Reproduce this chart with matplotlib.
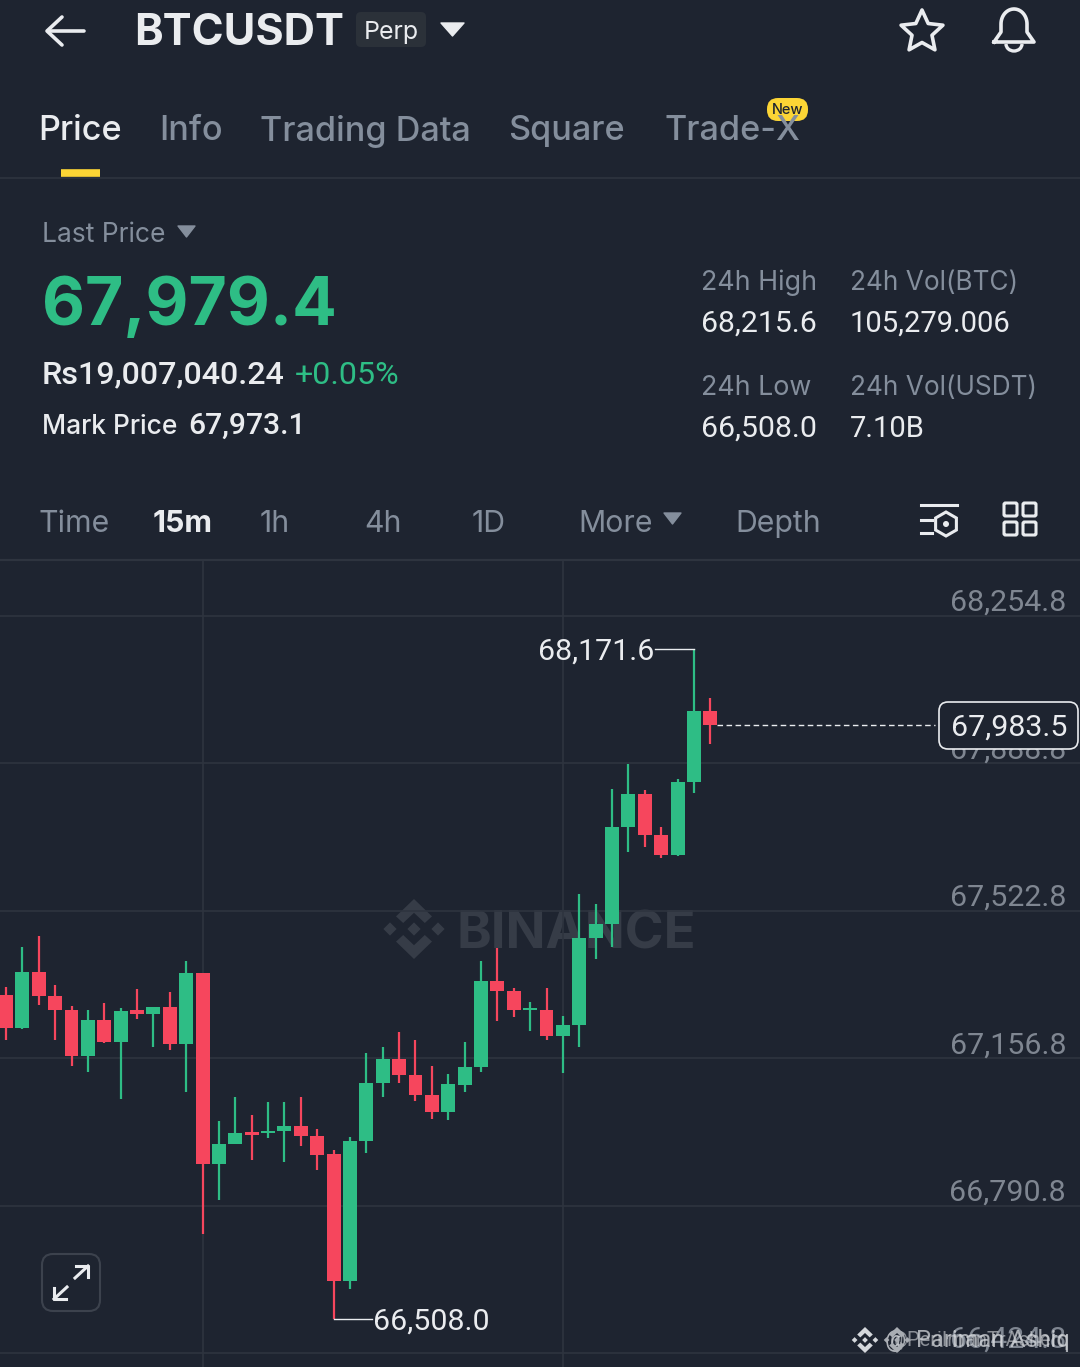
import numpy as np
import matplotlib
matplotlib.use('Agg')
import matplotlib.pyplot as plt
from matplotlib.patches import FancyBboxPatch, Polygon, Circle, Arc, RegularPolygon

plt.rcParams['font.family'] = ['Inter', 'DejaVu Sans']
NUM = ['Roboto', 'DejaVu Sans']  # digits of equal width, like the app

# candles
opens = [67313.7, 67232.5, 67372, 67312, 67276.5, 67161.5, 67251, 67198, 67276, 67266.5, 67283,
         67191, 67368, 66894, 66943, 66973.5, 66970, 66975, 66988, 66963, 66918, 66603.6,
         66950.5, 67095, 67154, 67115, 67065, 67022.5, 67091, 67134, 67349, 67324.4,
         67276.5, 67276.5, 67212, 67239, 67456, 67490, 67730, 67813, 67712, 67662, 67843, 68019.6]
highs = [67334, 67432, 67460, 67338, 67286.4, 67276.5, 67293, 67282, 67329.4, 67283, 67320.4,
         67399, 67368, 67001, 67060, 67016, 67047, 67047, 67060, 66982, 66929, 66962,
         67169, 67185, 67221, 67201, 67137, 67117, 67198, 67399, 67430, 67331,
         67297, 67330, 67261, 67564.5, 67540, 67824.5, 67887, 67823, 67730, 67851, 68171.6, 68051]
lows = [67202, 67228.5, 67288, 67203, 67136.7, 67123, 67194, 67055, 67254, 67184, 67178,
        67072, 66720, 66804, 66943, 66905, 66959, 66899, 66939, 66879, 66508, 66584,
        66921, 67061, 67095, 67050, 67007, 67003, 67072, 67122, 67249, 67260,
        67224.3, 67202, 67121, 67185, 67402, 67433.6, 67669, 67682, 67654, 67659, 67816, 67936]
closes = [67232.5, 67372, 67312, 67276, 67161.5, 67251, 67198, 67275, 67266.5, 67283, 67191,
          67367.6, 66894, 66943, 66972, 66966, 66976, 66988, 66963, 66917, 66603.6, 66950.5,
          67095, 67154, 67115, 67065, 67022.5, 67092, 67134, 67349, 67324.4, 67276.5,
          67282, 67212, 67238.5, 67456, 67490, 67730, 67813, 67712, 67662, 67843, 68019.6, 67983.5]

price_ticks = [68254.8, 67888.8, 67522.8, 67156.8, 66790.8, 66424.8]
tick_labels = ['68,254.8', '67,888.8', '67,522.8', '67,156.8', '66,790.8', '66,424.8']
last_price = 67983.5

tabs = ['Price', 'Info', 'Trading Data', 'Square', 'Trade-X']
tab_x = [38, 159, 260, 508, 665]
periods = ['Time', '15m', '1h', '4h', '1D', 'More', 'Depth']
period_x = [38, 153, 260, 364, 472, 578, 735]

BG = '#1E2430'
GREEN = '#2EBD85'
RED = '#F6465D'
GREY = '#848E9C'
WHITE = '#EAECEF'
GRID = '#2E343F'

fig = plt.figure(figsize=(10.8, 13.67), dpi=100, facecolor=BG)

# interface layer in pixel coords
ui = fig.add_axes([0, 0, 1, 1])
ui.set_xlim(0, 1080)
ui.set_ylim(1367, 0)
ui.axis('off')
ui.set_zorder(1)

# chart layer
ax = fig.add_axes([0, 0, 1, 807 / 1367])
ax.set_facecolor(BG)
ax.set_zorder(2)
ax.patch.set_alpha(0)
ax.set_xlim(-0.366, 65.57)
ax.set_ylim(66390.0, 68393.8)
for s in ax.spines.values():
    s.set_visible(False)
ax.set_xticks([])
ax.set_yticks([])

x = np.arange(len(opens))
o = np.array(opens)
c = np.array(closes)
colors = [GREEN if cl >= op else RED for op, cl in zip(opens, closes)]

for p, lab in zip(price_ticks, tick_labels):
    ax.axhline(p, color=GRID, lw=1.2, zorder=1)
    ax.annotate(lab, (1, p), xycoords=('axes fraction', 'data'), xytext=(-10, -0.7),
                textcoords='offset points', ha='right', va='bottom', color='#7F8691',
                fontsize=21.9, family=NUM, zorder=2)
ax.axvline(12, color=GRID, lw=1.2, zorder=1)
ax.axvline(34, color=GRID, lw=1.2, zorder=1)

ax.vlines(x, lows, highs, colors=colors, lw=1.6, zorder=3)
ax.bar(x, np.abs(c - o), bottom=np.minimum(o, c), width=0.85, color=colors, zorder=4)

# high / low leaders
ax.plot([42, 39.65], [highs[42], highs[42]], color=WHITE, lw=1, zorder=3)
ax.annotate('68,171.6', (39.6, highs[42]), xytext=(0, -1.5), textcoords='offset points', color=WHITE,
            fontsize=21.9, family=NUM, ha='right', va='center', zorder=5)
ax.plot([20, 22.35], [lows[20], lows[20]], color=WHITE, lw=1, zorder=3)
ax.annotate('66,508.0', (22.4, lows[20]), xytext=(0, -1.5), textcoords='offset points', color=WHITE,
            fontsize=21.9, family=NUM, ha='left', va='center', zorder=5)

# last price line
ax.plot([43.4, 56.7], [last_price, last_price], color=WHITE, lw=1, dashes=(4, 2.5), zorder=3)

# header
ui.plot([48, 84], [31, 31], color=WHITE, lw=2.6, solid_capstyle='round')
ui.plot([62, 47, 62], [17, 31, 45], color=WHITE, lw=2.6, solid_capstyle='round', solid_joinstyle='round')
ui.text(134, 33.5, 'BTCUSDT', color=WHITE, fontsize=31.2, fontweight='bold', va='center', ha='left')
ui.add_patch(FancyBboxPatch((356, 12), 70, 35, boxstyle='round,pad=0,rounding_size=5', fc='#2B3139', ec='none'))
ui.text(364, 33, 'Perp', color=WHITE, fontsize=18, va='center', ha='left')
ui.add_patch(Polygon([(441, 23), (464, 23), (452.5, 36)], fc=WHITE, ec=WHITE, lw=1, joinstyle='round'))

# star
ang = np.deg2rad(np.arange(0, 360, 36) - 90)
rad = np.array([22, 10.5] * 5)
ui.add_patch(Polygon(np.c_[922 + rad * np.cos(ang), 32 + rad * np.sin(ang)], fc='none', ec=WHITE, lw=2.6, joinstyle='round'))
# bell
t = np.linspace(np.pi, 2 * np.pi, 30)
bx = np.r_[994, 1001, 1001 + 13 * (1 + np.cos(t)), 1027, 1034, 994]
by = np.r_[42, 32, 24 + 15 * np.sin(t), 32, 42, 42]
ui.plot(bx, by, color=WHITE, lw=2.6, solid_joinstyle='round')
ui.add_patch(Arc((1014, 44), 16, 14, theta1=0, theta2=180, color=WHITE, lw=2.4))

# tabs
for i, (name, tx) in enumerate(zip(tabs, tab_x)):
    ui.text(tx, 131, name, color=WHITE if i == 0 else GREY, fontsize=24.6, va='center', ha='left',
            fontweight='medium')
ui.add_patch(FancyBboxPatch((767, 98), 41, 23, boxstyle='round,pad=0,rounding_size=11', fc='#FCD535', ec='none'))
ui.text(787.5, 110.5, 'New', color='#1E2430', fontsize=10.5, va='center', ha='center', fontweight='medium')
ui.plot([61, 100], [173, 173], color='#FCD535', lw=5.5, solid_capstyle='butt')
ui.plot([0, 1080], [177.5, 177.5], color=GRID, lw=1.2)

# price block
ui.text(42, 235.5, 'Last Price', color=GREY, fontsize=19, va='center', ha='left')
ui.add_patch(Polygon([(178, 226), (195, 226), (186.5, 237)], fc=GREY, ec=GREY, lw=1, joinstyle='round'))
ui.text(42, 308, '67,979.4', color=GREEN, fontsize=47.7, fontweight='bold', va='center', ha='left')
ui.text(42, 375, 'Rs19,007,040.24', color=WHITE, fontsize=23.2, fontweight='medium', family=NUM, va='center', ha='left')
ui.text(295, 375, '+0.05%', color=GREEN, fontsize=23.2, family=NUM, va='center', ha='left')
ui.text(42, 427, 'Mark Price', color=WHITE, fontsize=19, fontweight='medium', va='center', ha='left')
ui.text(188, 426, '67,973.1', color=WHITE, fontsize=21.7, fontweight='medium', family=NUM, va='center', ha='left')

ui.text(701, 283, '24h High', color=GREY, fontsize=19.3, va='center', ha='left')
ui.text(701, 324, '68,215.6', color=WHITE, fontsize=21.8, family=NUM, va='center', ha='left')
ui.text(850, 283, '24h Vol(BTC)', color=GREY, fontsize=18.9, va='center', ha='left')
ui.text(850, 324, '105,279.006', color=WHITE, fontsize=21, family=NUM, va='center', ha='left')
ui.text(701, 388, '24h Low', color=GREY, fontsize=19.3, va='center', ha='left')
ui.text(701, 429, '66,508.0', color=WHITE, fontsize=21.8, family=NUM, va='center', ha='left')
ui.text(850, 388, '24h Vol(USDT)', color=GREY, fontsize=18.9, va='center', ha='left')
ui.text(850, 429, '7.10B', color=WHITE, fontsize=21, family=NUM, va='center', ha='left')

# period row
for name, px in zip(periods, period_x):
    active = name == '15m'
    ui.text(px, 523.5, name, color=WHITE if active else GREY, fontsize=21.8,
            fontweight='bold' if active else 'normal', va='center', ha='left')
ui.add_patch(Polygon([(664, 513), (681, 513), (672.5, 524)], fc=GREY, ec=GREY, lw=1, joinstyle='round'))
ui.plot([0, 1080], [559.5, 559.5], color=GRID, lw=1.6)

# filter icon
ui.plot([921, 957], [505, 505], color=WHITE, lw=2.2)
ui.plot([921, 932], [520, 520], color=WHITE, lw=2.2)
ui.plot([921, 932], [533, 533], color=WHITE, lw=2.2)
ui.add_patch(RegularPolygon((946, 524), 6, radius=12, fc='none', ec=WHITE, lw=2.2))
ui.add_patch(Circle((946, 524), 3, fc=WHITE, ec='none'))
# grid icon
for gx in (1004, 1023):
    for gy in (503, 522):
        ui.add_patch(FancyBboxPatch((gx, gy), 13, 13, boxstyle='round,pad=0,rounding_size=1.5', fc='none', ec=WHITE, lw=2.2))


# binance logo
def logo(host, cx, cy, s, col, zorder=1.5):
    for dx, dy in [(0, 0), (-0.8, 0), (0.8, 0)]:
        d = 0.22
        host.add_patch(Polygon([(cx + (dx - d) * s, cy + dy * s), (cx + dx * s, cy + (dy - d) * s),
                                (cx + (dx + d) * s, cy + dy * s), (cx + dx * s, cy + (dy + d) * s)],
                               fc=col, ec='none', zorder=zorder))
    for sgn in (-1, 1):
        host.add_patch(Polygon([(cx - 0.6 * s, cy + sgn * 0.42 * s), (cx, cy + sgn * 1.0 * s),
                                (cx + 0.6 * s, cy + sgn * 0.42 * s), (cx + 0.36 * s, cy + sgn * 0.2 * s),
                                (cx, cy + sgn * 0.54 * s), (cx - 0.36 * s, cy + sgn * 0.2 * s)],
                               fc=col, ec='none', zorder=zorder))


# watermark under the candles
logo(ui, 414, 929, 30, '#363C47')
ui.text(457, 935, 'BINANCE', color='#363C47', fontsize=37.8, fontweight='bold', ha='left', va='center')

# overlays on top of the candles
top = fig.add_axes([0, 0, 1, 1])
top.set_xlim(0, 1080)
top.set_ylim(1367, 0)
top.axis('off')
top.set_zorder(3)
top.patch.set_alpha(0)
top.add_patch(FancyBboxPatch((939, 702), 139, 47, boxstyle='round,pad=0,rounding_size=9', fc=BG, ec=WHITE, lw=1.2))
top.text(1009, 727.5, '67,983.5', color=WHITE, fontsize=21.9, family=NUM, ha='center', va='center')

# expand button
top.add_patch(FancyBboxPatch((42, 1254), 58, 57, boxstyle='round,pad=0,rounding_size=11', fc=BG, ec='#3C424D', lw=1.5))
top.plot([75, 88], [1278, 1266], color=WHITE, lw=2.2)
top.plot([76, 88, 88], [1266, 1266, 1277], color=WHITE, lw=2.2)
top.plot([54, 67], [1299, 1287], color=WHITE, lw=2.2)
top.plot([54, 54, 66], [1288, 1299, 1299], color=WHITE, lw=2.2)

# bottom watermark, two overlapping captions
top.text(885, 1341, '@', color='#D5D8DC', fontsize=17, family=NUM, ha='left', va='center', alpha=0.8)
top.text(1070, 1341, 'Pariman Ashiq', color='#D5D8DC', fontsize=17, family=NUM, ha='right', va='center', alpha=0.75)
top.text(1070, 1341, '@PeriImanTrAsherq', color='#D5D8DC', fontsize=14.5, family=NUM, ha='right', va='center', alpha=0.6)
logo(top, 865, 1340, 13, '#D5D8DC', zorder=5)
logo(top, 897, 1340, 13, '#A9ADB3', zorder=5)

fig.savefig('out.png', dpi=100, facecolor=BG)
